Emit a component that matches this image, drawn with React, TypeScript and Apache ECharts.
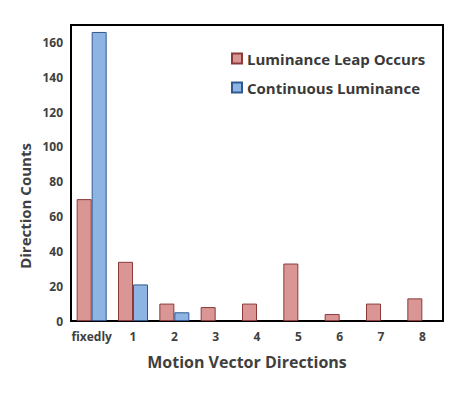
import React, { useEffect, useRef } from "react";
import * as echarts from "echarts";

const categories = ["fixedly", "1", "2", "3", "4", "5", "6", "7", "8"];
const leapValues = [70, 34, 10, 8, 10, 33, 4, 10, 13];
const continuousValues = [166, 21, 5, 0, 0, 0, 0, 0, 0];
const seriesNames = ["Luminance Leap Occurs", "Continuous Luminance"];
const xAxisTitle = "Motion Vector Directions";
const yAxisTitle = "Direction Counts";

export default function App() {
  const ref = useRef<HTMLDivElement>(null);
  useEffect(() => {
    if (!ref.current) return;
    const chart = echarts.init(ref.current, null, { renderer: "svg" });
    const font = "'Open Sans', 'Noto Sans', sans-serif";
    const hideZero = (arr: number[]) => arr.map((v) => (v === 0 ? null : v));
    chart.setOption({
      animation: false,
      grid: {
        left: 71,
        right: 31,
        top: 25,
        bottom: 72,
        show: true,
        borderColor: "#000",
        borderWidth: 2,
        backgroundColor: "transparent",
      },
      legend: {
        orient: "vertical",
        left: 226,
        top: 46,
        itemWidth: 10,
        itemHeight: 10,
        itemGap: 14,
        icon: "rect",
        textStyle: { fontFamily: font, fontWeight: "bold", fontSize: 15, color: "#3a3a3a" },
        data: seriesNames,
      },
      graphic: [
        {
          type: "text",
          x: 25,
          y: 206,
          rotation: Math.PI / 2,
          style: {
            text: yAxisTitle,
            fontFamily: font,
            fontWeight: "bold",
            fontSize: 15,
            fill: "#404040",
            textAlign: "center",
            textVerticalAlign: "middle",
          },
        },
        {
          type: "text",
          x: 247,
          y: 362,
          style: {
            text: xAxisTitle,
            fontFamily: font,
            fontWeight: "bold",
            fontSize: 16,
            fill: "#404040",
            textAlign: "center",
            textVerticalAlign: "middle",
          },
        },
      ],
      xAxis: {
        type: "category",
        data: categories,
        axisLine: { lineStyle: { color: "#000", width: 2 } },
        axisTick: { show: false },
        axisLabel: { interval: 0, fontFamily: font, fontWeight: "bold", fontSize: 12, color: "#404040", margin: 9 },
      },
      yAxis: {
        type: "value",
        min: 0,
        max: 170,
        interval: 20,
        axisLine: { show: true, lineStyle: { color: "#000", width: 2 } },
        axisTick: { show: false },
        splitLine: { show: false },
        axisLabel: {
          fontFamily: font,
          fontWeight: "bold",
          fontSize: 12,
          color: "#404040",
          margin: 8,
          formatter: (v: number) => (v % 20 === 0 && v <= 160 ? String(v) : ""),
        },
      },
      series: [
        {
          name: seriesNames[0],
          type: "bar",
          data: hideZero(leapValues),
          barWidth: 15,
          barGap: "0%",
          itemStyle: { color: "#d99694", borderColor: "#8c3a3a", borderWidth: 1 },
        },
        {
          name: seriesNames[1],
          type: "bar",
          data: hideZero(continuousValues),
          barWidth: 15,
          barGap: "0%",
          itemStyle: { color: "#8eb4e3", borderColor: "#2f5a8f", borderWidth: 1 },
        },
      ],
    });
    return () => chart.dispose();
  }, []);
  return (
    <div
      ref={ref}
      style={{ position: "absolute", left: 0, top: 0, width: 474, height: 393 }}
    />
  );
}
